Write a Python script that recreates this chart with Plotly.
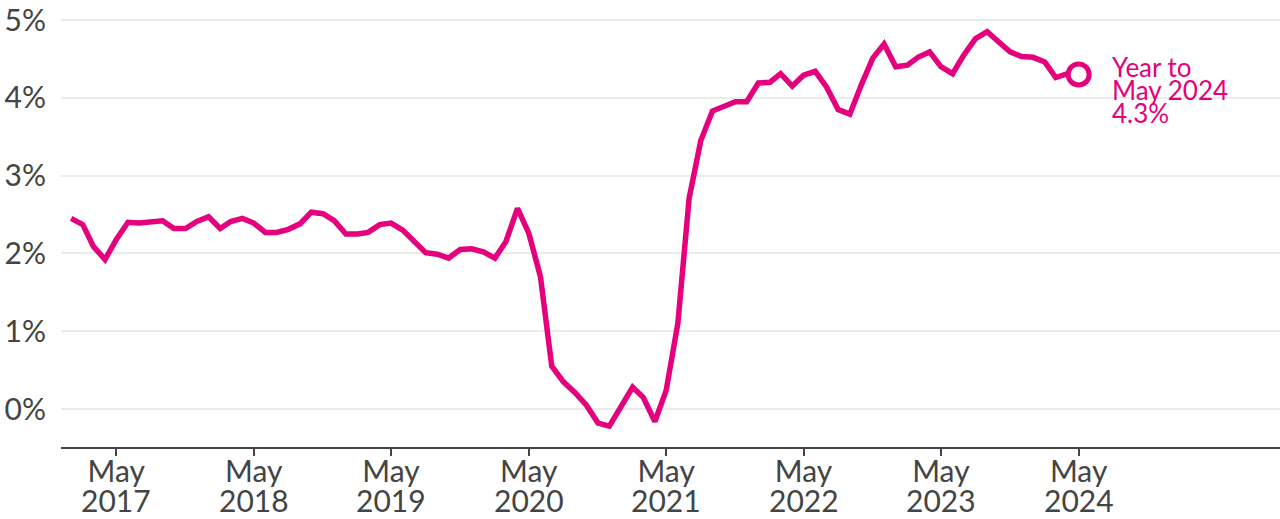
import plotly.graph_objects as go
import pandas as pd

start_month = "2017-01-01"
values = [
    2.45, 2.37, 2.09, 1.92, 2.18, 2.40, 2.39, 2.40, 2.42, 2.32, 2.32, 2.41,
    2.47, 2.32, 2.41, 2.45, 2.39, 2.27, 2.27, 2.31, 2.38, 2.53, 2.51, 2.42,
    2.25, 2.25, 2.27, 2.37, 2.39, 2.30, 2.15, 2.01, 1.99, 1.94, 2.05, 2.06,
    2.02, 1.94, 2.15, 2.58, 2.26, 1.70, 0.55, 0.35, 0.21, 0.05, -0.18, -0.22,
    0.03, 0.28, 0.15, -0.16, 0.24, 1.10, 2.71, 3.45, 3.83, 3.89, 3.95, 3.95,
    4.19, 4.20, 4.31, 4.15, 4.29, 4.34, 4.14, 3.85, 3.79, 4.16, 4.51, 4.69,
    4.40, 4.42, 4.52, 4.59, 4.40, 4.31, 4.55, 4.76, 4.85, 4.72, 4.59, 4.53,
    4.52, 4.46, 4.26, 4.31, 4.30,
]
dates = pd.date_range(start_month, periods=len(values), freq="MS")

tick_dates = pd.date_range("2017-05-01", "2024-05-01", freq="12MS")
tick_months = ["May"] * len(tick_dates)
tick_years = [str(d.year) for d in tick_dates]
y_ticks = [0, 1, 2, 3, 4, 5]
y_labels = [f"{v}%" for v in y_ticks]
annotation_lines = ["Year to", "May 2024", "4.3%"]

PINK = "#E5007D"
GREY = "#444444"
FONT = "Lato"

fig = go.Figure()
fig.add_trace(go.Scatter(
    x=dates, y=values, mode="lines",
    line=dict(color=PINK, width=5.5), hoverinfo="skip",
))
fig.add_trace(go.Scatter(
    x=[dates[-1]], y=[values[-1]], mode="markers",
    marker=dict(size=21, color="white", line=dict(color=PINK, width=5)),
    hoverinfo="skip",
))

for i, txt in enumerate(annotation_lines):
    fig.add_annotation(
        x=dates[-1], y=values[-1], xref="x", yref="y",
        text=txt, showarrow=False, xanchor="left", yanchor="middle",
        xshift=31, yshift=7 - 23 * i,
        font=dict(family=FONT, size=26, color=PINK),
    )

# second line of the x tick labels (years)
for d, yr in zip(tick_dates, tick_years):
    fig.add_annotation(
        x=d, y=0, xref="x", yref="paper",
        text=yr, showarrow=False, xanchor="center", yanchor="middle",
        yshift=-53,
        font=dict(family=FONT, size=30, color=GREY),
    )

fig.update_layout(
    width=1280, height=519,
    margin=dict(l=61, r=0, t=0, b=72),
    paper_bgcolor="white", plot_bgcolor="white",
    showlegend=False,
    font=dict(family=FONT, color=GREY),
)
fig.update_xaxes(
    range=["2016-12-05", "2025-10-18"],
    tickvals=tick_dates, ticktext=tick_months,
    showgrid=False, showline=True, linecolor=GREY, linewidth=2,
    ticks="outside", ticklen=7, tickwidth=1.5, tickcolor=GREY,
    tickfont=dict(family=FONT, size=30, color=GREY),
    ticklabelstandoff=-10,
    zeroline=False, automargin=False,
)
fig.update_yaxes(
    range=[-0.488, 5.257],
    tickvals=y_ticks, ticktext=y_labels,
    showgrid=True, gridcolor="#EBEBEB", gridwidth=1.5,
    showline=False, zeroline=False, ticks="",
    tickfont=dict(family=FONT, size=30, color=GREY),
    ticklabelstandoff=14, automargin=False,
)

fig.write_html(
    "out.html",
    config={"displayModeBar": False},
    post_script="document.body.style.margin='0';document.body.style.overflow='hidden';",
)
